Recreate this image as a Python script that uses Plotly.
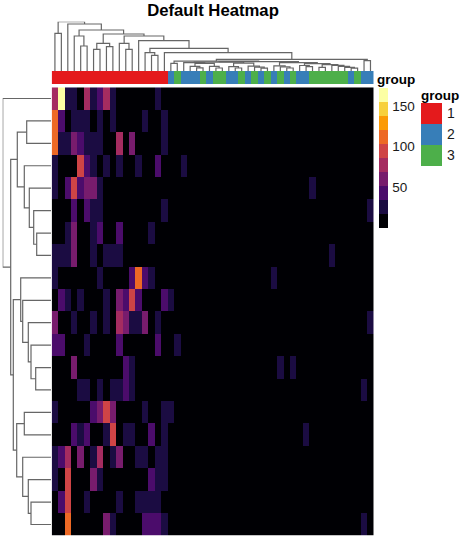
import numpy as np
import plotly.graph_objects as go

W, H = 474, 541
FONT = "Liberation Sans"

# colour bins of the heatmap (viridis inferno, 10 levels)
inferno10 = ["#000004", "#1B0C42", "#4B0C6B", "#781C6D", "#A52C60",
             "#CF4446", "#ED6925", "#FB9A06", "#F7D03C", "#FCFFA4"]
group_colors = ["#E41A1C", "#377EB8", "#4DAF4A"]
colorbar_ticks = [50, 100, 150]
z_max = 172
group_labels = ["1", "2", "3"]

# column annotation, left to right
col_groups = [1] * 18 + [2, 3, 2, 2, 2, 3, 2, 3, 3, 2, 2, 3, 2, 3, 2, 3, 2, 3, 2, 3,
                         2, 2, 3, 3, 3, 3, 3, 3, 2, 3, 2, 2]

# non-zero cells per row, {column: value}; all other cells are about zero
row_01 = {0: 77, 1: 165, 2: 26, 3: 26, 5: 77, 6: 26, 7: 43, 8: 77, 9: 26, 16: 26}
row_02 = {0: 112, 1: 43, 3: 26, 4: 26, 5: 26, 7: 26, 9: 26, 14: 26, 17: 26}
row_03 = {0: 112, 1: 26, 2: 26, 3: 60, 4: 43, 5: 26, 6: 26, 7: 26, 10: 77, 12: 60, 17: 26}
row_04 = {0: 26, 4: 95, 5: 43, 6: 26, 8: 26, 10: 26, 13: 26, 16: 43, 20: 26}
row_05 = {0: 26, 2: 43, 3: 100, 4: 43, 5: 60, 6: 60, 7: 26, 40: 26}
row_06 = {3: 43, 5: 43, 6: 26, 7: 26, 17: 26, 49: 26}
row_07 = {2: 26, 3: 60, 6: 26, 7: 43, 10: 43, 15: 26}
row_08 = {0: 26, 1: 26, 2: 26, 3: 60, 6: 26, 8: 26, 9: 26, 10: 26, 43: 26}
row_09 = {0: 26, 7: 26, 12: 43, 13: 112, 14: 43, 15: 26, 34: 26}
row_10 = {1: 43, 2: 26, 4: 26, 8: 26, 10: 60, 11: 43, 12: 95, 13: 43, 17: 43, 18: 26}
row_11 = {0: 65, 3: 26, 6: 26, 8: 26, 10: 77, 11: 60, 12: 26, 13: 26, 14: 60, 16: 26, 49: 26}
row_12 = {0: 43, 1: 43, 5: 26, 10: 43, 16: 43, 19: 26}
row_13 = {3: 60, 11: 43, 12: 26, 35: 26, 37: 26}
row_14 = {4: 26, 5: 26, 7: 26, 9: 26, 10: 26, 11: 43, 12: 26, 48: 26}
row_15 = {0: 26, 6: 43, 7: 60, 8: 95, 9: 60, 14: 26, 17: 26, 18: 26}
row_16 = {3: 43, 4: 26, 5: 43, 8: 26, 9: 95, 11: 26, 12: 26, 15: 50, 17: 26, 39: 26}
row_17 = {0: 26, 1: 43, 2: 77, 4: 60, 6: 26, 7: 77, 9: 26, 10: 60, 13: 26, 14: 26, 16: 26, 17: 26}
row_18 = {0: 26, 2: 95, 6: 60, 7: 26, 15: 50, 16: 26, 17: 26}
row_19 = {1: 43, 2: 95, 5: 26, 10: 26, 13: 26, 14: 26, 15: 26, 16: 26}
row_20 = {2: 112, 8: 60, 9: 26, 14: 43, 15: 43, 16: 43, 17: 26, 48: 26}
rows = [row_01, row_02, row_03, row_04, row_05, row_06, row_07, row_08, row_09, row_10,
        row_11, row_12, row_13, row_14, row_15, row_16, row_17, row_18, row_19, row_20]

# clustering trees: (merge height, left, right), a plain int is a leaf
col_a = (4.6, 21, (3.2, 22, 23))
col_b = (4.6, 24, (3.0, 25, 26))
col_c = (4.4, 27, (3.0, 28, 29))
col_d = (4.8, 30, (3.8, 31, (2.8, 32, 33)))
col_e = (5.2, 34, (4.2, 35, (3.0, 36, 37)))
col_f = (5.5, 38, (4.4, 39, 40))
col_g = (3.6, 41, 42)
col_h = (5.6, 43, (4.6, 44, (3.6, 45, (2.8, 46, 47))))
col_left = (8.9, (8.4, 20, (7.7, col_a, col_b)), (7.9, col_c, col_d))
col_right = (8.3, col_e, (7.4, col_f, (6.4, col_g, col_h)))
col_dense = (11.7, (9.8, (7.6, 18, 19), (9.3, col_left, col_right)), (10.3, 48, 49))
col_tree = (49.3, (37.6, 0, 1),
            (47, 2,
             (41, (35, 3, (25, 4, 5)),
              (37, (27.7, (21.7, 6, 7), (24.3, 8, 9)),
               (35, (27.7, 10, (21.7, 11, 12)),
                (30.3, 13,
                 (22.7, (18.3, 14, (15.7, 15, 16)),
                  (18.3, 17, col_dense))))))))

row_top = (33.7, (24.3, 1, 2),
           (26.7, 3, (21.7, 4, (17.3, 5, (14.3, 6, 7)))))
row_mid = (30.3, 8, (28.3, 9, (22.7, 10, (20, 11, (15.3, 12, 13)))))
row_low = (34.3, (26.7, 14, 15), (28.3, 16, (22.7, 17, (20, 18, 19))))
row_tree = (48.3, 0, (40.3, row_top, (37.7, row_mid, row_low)))


def dom_x(a, b):
    return [a / W, b / W]


def dom_y(top, bottom):
    return [1 - bottom / H, 1 - top / H]


def stepped(colors):
    n = len(colors)
    scale = []
    for i, c in enumerate(colors):
        scale += [[i / n, c], [(i + 1) / n, c]]
    return scale


def tree_lines(node, pos, height):
    """Walks a tree and appends the bracket lines, returns (position, height)."""
    if isinstance(node, int):
        return node, 0
    h, left, right = node
    p1, h1 = tree_lines(left, pos, height)
    p2, h2 = tree_lines(right, pos, height)
    pos += [p1, p1, p2, p2, None]
    height += [h1, h, h, h2, None]
    return (p1 + p2) / 2, h


z = np.zeros((len(rows), len(col_groups)))
for i, row in enumerate(rows):
    for j, val in row.items():
        z[i, j] = val

col_x, col_h_vals = [], []
tree_lines(col_tree, col_x, col_h_vals)
row_y, row_h_vals = [], []
tree_lines(row_tree, row_y, row_h_vals)

line = dict(color="#666666", width=1.2)

fig = go.Figure()
fig.add_trace(go.Heatmap(
    z=z, xaxis="x", yaxis="y", zmin=0, zmax=z_max,
    colorscale=stepped(inferno10),
    colorbar=dict(
        x=379 / W, xanchor="left", xpad=0,
        y=1 - 88 / H, yanchor="top", ypad=0,
        thickness=9, thicknessmode="pixels",
        len=140, lenmode="pixels",
        outlinewidth=0, borderwidth=0,
        tickvals=colorbar_ticks, ticks="outside", ticklen=2,
        tickcolor="rgba(0,0,0,0)",
        tickfont=dict(family=FONT, size=13.5, color="#1a1a1a"),
    ),
))
fig.add_trace(go.Heatmap(
    z=[col_groups], xaxis="x", yaxis="y2", zmin=0.5, zmax=3.5,
    colorscale=stepped(group_colors), showscale=False,
))
fig.add_trace(go.Scatter(x=col_x, y=col_h_vals, xaxis="x", yaxis="y3",
                         mode="lines", line=line))
fig.add_trace(go.Scatter(x=row_h_vals, y=row_y, xaxis="x3", yaxis="y",
                         mode="lines", line=line))
fig.add_trace(go.Heatmap(
    z=[[1], [2], [3]], y=group_labels, xaxis="x4", yaxis="y4", zmin=0.5, zmax=3.5,
    colorscale=stepped(group_colors), showscale=False,
))

hidden = dict(visible=False, showgrid=False, zeroline=False)
n_cols, n_rows = len(col_groups), len(rows)

fig.update_layout(
    width=W, height=H,
    margin=dict(l=0, r=0, t=0, b=0),
    paper_bgcolor="white", plot_bgcolor="white",
    showlegend=False,
    font=dict(family=FONT, color="black"),
    title=dict(text="<b>Default Heatmap</b>", x=213 / W, xanchor="center",
               y=1 - 10 / H, yanchor="middle", font=dict(family=FONT, size=16.7)),
    xaxis=dict(domain=dom_x(51.7, 373.7), range=[-0.5, n_cols - 0.5], **hidden),
    yaxis=dict(domain=dom_y(87.3, 535.7), range=[n_rows - 0.5, -0.5], **hidden),
    yaxis2=dict(domain=dom_y(71, 84), range=[-0.5, 0.5], anchor="x", **hidden),
    yaxis3=dict(domain=dom_y(21.7, 71), range=[0, 49.3], anchor="x", **hidden),
    xaxis3=dict(domain=dom_x(2.7, 51), range=[48.3, 0], anchor="y", **hidden),
    xaxis4=dict(domain=dom_x(421, 442), range=[-0.5, 0.5], anchor="y4", **hidden),
    yaxis4=dict(domain=dom_y(103, 166), type="category", autorange="reversed",
                anchor="x4", side="right", ticks="", showgrid=False, zeroline=False,
                showline=False, ticklabelstandoff=4,
                tickfont=dict(family=FONT, size=14, color="#1a1a1a")),
    annotations=[
        dict(text="<b>group</b>", x=375 / W, y=1 - 80 / H, xref="paper", yref="paper",
             xanchor="left", yanchor="middle", showarrow=False,
             font=dict(family=FONT, size=13.5, color="black")),
        dict(text="<b>group</b>", x=419 / W, y=1 - 95 / H, xref="paper", yref="paper",
             xanchor="left", yanchor="middle", showarrow=False,
             font=dict(family=FONT, size=13.5, color="black")),
    ],
)

fig.write_html("out.html", config=dict(displayModeBar=False),
               post_script="document.body.style.margin='0';")
